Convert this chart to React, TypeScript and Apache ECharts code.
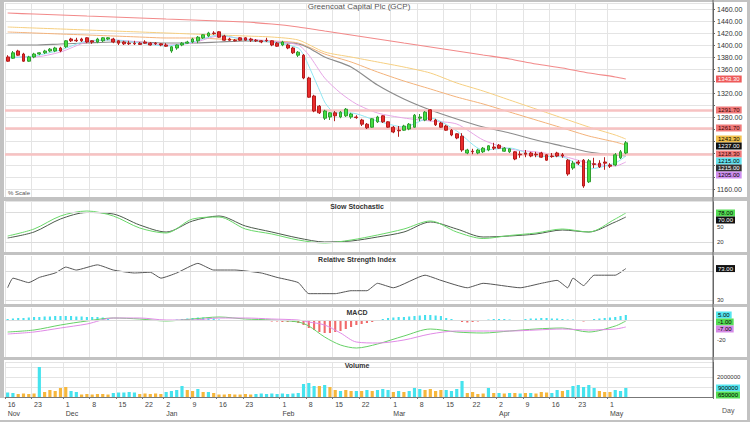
import React, { useEffect, useRef } from "react";
import * as echarts from "echarts";

const TITLE = "Greencoat Capital Plc (GCP)";
const PANEL_TITLES = ["Slow Stochastic", "Relative Strength Index", "MACD", "Volume"];
const START_DATE = "2023-11-16";
const HOLIDAYS = ["2023-12-25", "2023-12-26", "2024-01-01", "2024-03-29", "2024-04-01", "2024-05-06"];
const FUTURE_SLOTS = 16;
const MONTHS = ["Jan", "Feb", "Mar", "Apr", "May", "Jun", "Jul", "Aug", "Sep", "Oct", "Nov", "Dec"];

// [open, close, low, high]
const candles: number[][] = [
  [1380, 1373, 1372, 1383], [1378, 1387, 1377, 1390], [1390, 1383, 1382, 1392], [1385, 1373, 1372, 1387],
  [1373, 1380, 1372, 1382], [1380, 1385, 1378, 1387], [1385, 1387, 1383, 1388], [1387, 1390, 1385, 1392],
  [1390, 1393, 1388, 1395], [1390, 1395, 1388, 1397], [1395, 1390, 1388, 1397], [1397, 1407, 1395, 1408],
  [1410, 1407, 1405, 1412], [1408, 1407, 1405, 1412], [1410, 1407, 1405, 1412], [1412, 1405, 1403, 1413],
  [1407, 1405, 1402, 1408], [1405, 1410, 1403, 1412], [1407, 1412, 1405, 1413], [1410, 1412, 1408, 1413],
  [1410, 1405, 1403, 1412], [1407, 1403, 1400, 1408], [1405, 1402, 1400, 1407], [1403, 1402, 1400, 1407],
  [1403, 1402, 1400, 1407], [1403, 1401, 1400, 1405], [1405, 1403, 1402, 1408], [1403, 1400, 1399, 1405],
  [1403, 1402, 1400, 1405], [1402, 1400, 1398, 1403], [1400, 1398, 1397, 1403], [1390, 1397, 1387, 1398],
  [1395, 1400, 1392, 1401], [1400, 1403, 1398, 1405], [1403, 1405, 1402, 1407], [1405, 1410, 1403, 1412],
  [1407, 1413, 1403, 1415], [1412, 1417, 1410, 1418], [1415, 1420, 1413, 1422], [1420, 1419, 1417, 1423],
  [1422, 1413, 1412, 1423], [1415, 1408, 1407, 1417], [1410, 1408, 1407, 1412], [1408, 1407, 1406, 1410],
  [1412, 1408, 1407, 1413], [1412, 1408, 1407, 1413], [1410, 1408, 1405, 1412], [1408, 1407, 1405, 1410],
  [1407, 1405, 1403, 1408], [1408, 1407, 1405, 1412], [1407, 1400, 1398, 1408], [1403, 1398, 1397, 1405],
  [1400, 1405, 1398, 1407], [1400, 1395, 1393, 1402], [1395, 1387, 1385, 1397], [1383, 1388, 1380, 1390],
  [1383, 1345, 1343, 1385], [1345, 1313, 1312, 1347], [1315, 1290, 1288, 1317], [1298, 1287, 1285, 1300],
  [1278, 1290, 1275, 1292], [1280, 1287, 1275, 1288], [1287, 1282, 1273, 1290], [1280, 1288, 1278, 1290],
  [1282, 1293, 1280, 1295], [1280, 1285, 1277, 1287], [1280, 1279, 1277, 1283], [1275, 1268, 1265, 1277],
  [1268, 1262, 1260, 1270], [1263, 1277, 1262, 1278], [1272, 1280, 1270, 1282], [1282, 1272, 1270, 1283],
  [1272, 1263, 1262, 1273], [1263, 1255, 1253, 1265], [1258, 1257, 1247, 1265], [1258, 1265, 1257, 1267],
  [1260, 1268, 1258, 1270], [1263, 1283, 1262, 1285], [1278, 1280, 1273, 1285], [1275, 1288, 1273, 1290],
  [1292, 1275, 1273, 1293], [1275, 1267, 1265, 1277], [1270, 1263, 1262, 1272], [1265, 1258, 1257, 1267],
  [1258, 1250, 1248, 1260], [1252, 1245, 1243, 1253], [1248, 1225, 1222, 1253], [1220, 1225, 1218, 1227],
  [1223, 1222, 1218, 1227], [1220, 1225, 1218, 1227], [1222, 1228, 1220, 1230], [1225, 1232, 1223, 1233],
  [1230, 1228, 1225, 1237], [1233, 1228, 1227, 1235], [1223, 1228, 1222, 1230], [1222, 1227, 1220, 1228],
  [1222, 1210, 1208, 1223], [1218, 1217, 1212, 1223], [1220, 1218, 1213, 1225], [1220, 1215, 1213, 1222],
  [1218, 1217, 1213, 1222], [1220, 1213, 1212, 1222], [1217, 1208, 1207, 1218], [1215, 1214, 1212, 1220],
  [1220, 1215, 1213, 1222], [1217, 1215, 1212, 1220], [1208, 1185, 1182, 1210], [1195, 1203, 1192, 1207],
  [1205, 1203, 1200, 1208], [1208, 1165, 1162, 1210], [1172, 1207, 1170, 1210], [1202, 1201, 1195, 1212],
  [1203, 1197, 1195, 1208], [1205, 1203, 1192, 1213], [1200, 1198, 1195, 1203], [1200, 1217, 1198, 1220],
  [1212, 1222, 1210, 1225], [1220, 1237, 1218, 1240],
];

const volumes = [
  450000, 400000, 300000, 350000, 300000, 350000, 3000000, 500000, 700000, 600000,
  900000, 1000000, 600000, 500000, 250000, 300000, 250000, 300000, 300000, 250000,
  400000, 450000, 450000, 500000, 450000, 300000, 350000, 300000, 350000, 300000,
  500000, 600000, 700000, 1100000, 700000, 600000, 800000, 500000, 500000, 400000,
  250000, 250000, 300000, 250000, 250000, 300000, 250000, 300000, 350000, 300000,
  350000, 300000, 350000, 300000, 350000, 400000, 1300000, 1400000, 1100000, 1100000,
  1200000, 1000000, 700000, 600000, 700000, 600000, 600000, 600000, 700000, 600000,
  700000, 800000, 700000, 500000, 600000, 500000, 600000, 900000, 800000, 700000,
  800000, 600000, 700000, 700000, 600000, 800000, 1600000, 400000, 500000, 300000,
  350000, 900000, 400000, 400000, 350000, 400000, 400000, 350000, 400000, 400000,
  350000, 500000, 450000, 400000, 700000, 600000, 700000, 1100000, 1200000, 1000000,
  1200000, 900000, 600000, 500000, 500000, 700000, 600000, 900000,
];
// 1 = cyan bar, 0 = orange bar
const volumeCyan = [
  1, 1, 0, 0, 0, 0, 1, 0, 0, 0, 0, 0, 1, 1, 0, 0, 0, 0, 0, 0,
  1, 1, 1, 1, 1, 0, 0, 0, 0, 0, 1, 1, 1, 1, 0, 0, 1, 0, 1, 0,
  0, 0, 0, 0, 0, 0, 0, 1, 1, 1, 1, 1, 1, 1, 1, 1, 1, 1, 1, 0,
  1, 0, 0, 1, 0, 0, 1, 0, 1, 0, 1, 1, 1, 0, 1, 0, 1, 1, 1, 0,
  0, 0, 0, 1, 1, 1, 1, 0, 0, 0, 0, 1, 0, 1, 0, 1, 0, 1, 0, 1,
  0, 0, 0, 1, 1, 0, 1, 1, 1, 1, 1, 1, 0, 0, 0, 1, 1, 1,
];
const volumeAvg = 650000;

// moving averages, read every fifth session
const maIdx = [0, 5, 10, 15, 20, 25, 30, 35, 40, 45, 50, 55, 60, 65, 70, 75, 80, 85, 90, 95, 100, 105, 110, 115, 117];
const maRed = [1453.3, 1451.7, 1450, 1448.3, 1446.7, 1445, 1443.3, 1441.7, 1440, 1438.3, 1435, 1430, 1423.3, 1416.7, 1410, 1403.3, 1396.7, 1390, 1383.3, 1376.7, 1368.3, 1361.7, 1353.3, 1346.7, 1343.3];
const maYellow = [1430, 1428.3, 1426.7, 1425, 1423.3, 1421.7, 1420, 1418.3, 1416.7, 1415, 1413.3, 1408.3, 1388.3, 1380, 1371.7, 1363.3, 1353.3, 1336.7, 1323.3, 1308.3, 1293.3, 1278.3, 1263.3, 1250, 1243.3];
const maOrange = [1421.7, 1420, 1418.3, 1416.7, 1415, 1413.3, 1411.7, 1411.7, 1410, 1408.3, 1406.7, 1403.3, 1385, 1371.7, 1355, 1340, 1326.7, 1313.3, 1301.7, 1288.3, 1275, 1261.7, 1248.3, 1238.3, 1233.3];
const grayIdx = [0, 5, 10, 15, 20, 25, 30, 35, 40, 45, 50, 55, 57, 60, 65, 70, 75, 80, 85, 90, 95, 100, 105, 110, 115, 117];
const maGray = [1400, 1400, 1401.7, 1403.3, 1405, 1405, 1403.3, 1403.3, 1405, 1406.7, 1405, 1401.7, 1395, 1380, 1363.3, 1333.3, 1310, 1291.7, 1276.7, 1263.3, 1253.3, 1241.7, 1231.7, 1221.7, 1216.7, 1215];
const pinkIdx = [0, 5, 10, 15, 20, 25, 30, 35, 40, 45, 50, 55, 57, 60, 63, 66, 70, 75, 80, 85, 90, 95, 100, 105, 110, 115, 117];
const maPink = [1380, 1380, 1388.3, 1405, 1408.3, 1405, 1400, 1403.3, 1415, 1410, 1406.7, 1400, 1383.3, 1345, 1320, 1301.7, 1286.7, 1278.3, 1273.3, 1268.3, 1241.7, 1226.7, 1221.7, 1215, 1203.3, 1198.3, 1205];
const cyanIdx = [0, 5, 10, 15, 20, 25, 30, 35, 40, 45, 50, 55, 56, 57, 58, 59, 60, 61, 62, 65, 70, 75, 80, 85, 90, 95, 100, 105, 110, 115, 117];
const maCyan = [1378.3, 1381.7, 1391.7, 1406.7, 1408.3, 1403.3, 1398.3, 1405, 1416.7, 1408.3, 1405, 1395, 1383.3, 1365, 1345, 1325, 1305, 1293.3, 1286.7, 1286.7, 1273.3, 1263.3, 1278.3, 1256.7, 1225, 1228.3, 1215, 1213.3, 1193.3, 1203.3, 1215];
const levels = [1291.7, 1261.7, 1218.3];

// slow stochastic (read every fifth session, same indices as maIdx)
const stochK = [32, 46, 72, 82, 72, 48, 38, 66, 70, 46, 36, 24, 18, 24, 34, 46, 62, 40, 27, 33, 38, 46, 40, 66, 78];
const stochD = [28, 40, 66, 79, 76, 54, 40, 62, 72, 52, 40, 28, 20, 22, 30, 40, 60, 46, 30, 32, 36, 44, 40, 60, 70];

// RSI readings
const rsiIdx = [0, 1, 4, 6, 9, 11, 13, 17, 20, 24, 27, 29, 32, 36, 39, 43, 48, 51, 55, 57, 62, 65, 68, 70, 73, 79, 82, 87, 90, 97, 101, 104, 106, 107, 109, 111, 115, 117];
const rsiVals = [47, 60, 54, 61, 67, 75, 71, 78, 71, 67, 68, 60, 67, 80, 71, 71, 67, 61, 54, 39, 39, 43, 43, 53, 47, 64, 57, 47, 53, 47, 53, 57, 47, 60, 50, 64, 64, 73];

// MACD
const macdIdx = [0, 5, 10, 15, 20, 25, 30, 35, 40, 45, 50, 55, 57, 60, 63, 66, 70, 75, 80, 85, 90, 95, 100, 105, 110, 115, 117];
const macdLine = [-12, -10, -5, -1, 2, 1, -1, 1, 3, 1, 0, -2, -6, -17, -25, -28, -24, -16, -9, -12, -13, -11, -9, -8, -12, -6, -1];
const macdSignal = [-14, -12, -8, -4, 2, 2, 0, 0, 2, 2, 1, 0, -2, -5, -13, -22, -23, -20, -14, -11, -11, -11, -10, -9, -10, -9, -7];
const macdHist = [
  1, 1.5, 2, 2, 2.5, 3, 3, 3.5, 3.5, 4, 4, 4, 4, 3.5, 3.5, 3, 3, 3, 2.5, 2,
  -0.5, -0.5, -1, -1, -1, -1, -1, -1, -0.5, -1, -1, -0.5, 0.5, 1, 1.5, 2, 2.5, 2.5, 2, 1.5,
  0.5, -0.5, -0.5, -1, -1, -1, -1, -1, -1, -1, -1.5, -1.5, -2, -2, -2, -3, -5, -8, -10, -12,
  -13, -13, -12, -11, -9, -7, -5, -4, -3, -2, -1, 1, 2, 2.5, 3, 3, 3.5, 4, 4.5, 5,
  5, 4.5, 4, 2, 1, -1, -2, -2.5, -2, -1.5, -1, 0.5, 1, 1, 1, 0.5, -0.5, 0, 1, 1.5,
  1.5, 2, 2, 1.5, 1.5, 1, 0.5, 0.5, -0.5, -1.5, -1, 1, 1.5, 2, 2.5, 3, 4, 5,
];

function buildDates(count: number): string[] {
  const out: string[] = [];
  const d = new Date(START_DATE + "T00:00:00Z");
  while (out.length < count) {
    const wd = d.getUTCDay();
    const s = d.toISOString().slice(0, 10);
    if (wd !== 0 && wd !== 6 && HOLIDAYS.indexOf(s) < 0) out.push(s);
    d.setUTCDate(d.getUTCDate() + 1);
  }
  return out;
}

const pairs = (idx: number[], vals: number[]) => idx.map((x, k) => [x, vals[k]]);
const last = (a: number[]) => a[a.length - 1];

type Tag = { value: number; bg: string; fg: string; text: string; pos?: number };

// push overlapping value boxes apart (layout only: the displayed text keeps the true value)
function stackTags(tags: Tag[], pxPerUnit: number, gap: number): Tag[] {
  const sorted = tags.slice().sort((a, b) => b.value - a.value);
  let prev: number | null = null;
  sorted.forEach((t) => {
    let p = t.value;
    if (prev !== null && (prev - p) * pxPerUnit < gap) p = prev - gap / pxPerUnit;
    t.pos = p;
    prev = p;
  });
  return sorted;
}

export default function App() {
  const ref = useRef<HTMLDivElement>(null);

  useEffect(() => {
    if (!ref.current) return;
    const chart = echarts.init(ref.current, undefined, { renderer: "svg" });
    const nBars = candles.length;
    const dates = buildDates(nBars + FUTURE_SLOTS);

    const monthStarts: number[] = [];
    for (let i = 0; i < nBars; i++) {
      if (i === 0 || dates[i].slice(5, 7) !== dates[i - 1].slice(5, 7)) monthStarts.push(i);
    }
    const tickSet = new Set<number>();
    monthStarts.forEach((m, k) => {
      const next = k + 1 < monthStarts.length ? monthStarts[k + 1] : nBars + 2;
      for (let i = m; i < next - 2 && i < nBars; i += 5) tickSet.add(i);
    });
    const monthSet = new Set(monthStarts);
    const tickFn = (idx: number) => tickSet.has(idx);
    const labelFmt = (value: string, idx: number) => {
      if (!tickSet.has(idx)) return "";
      const day = String(parseInt(value.slice(8, 10), 10));
      if (monthSet.has(idx)) return day + "\n" + MONTHS[parseInt(value.slice(5, 7), 10) - 1];
      return day;
    };

    const gridLine = "#e4e4e4";
    const grids = [
      { left: 5, right: 37, top: 3, height: 198 },
      { left: 5, right: 37, top: 202, height: 50 },
      { left: 5, right: 37, top: 256, height: 48 },
      { left: 5, right: 37, top: 308, height: 52 },
      { left: 5, right: 37, top: 362, height: 35 },
    ];
    const ranges = [
      [1140, 1470],
      [0, 100],
      [25, 90],
      [-40, 12],
      [0, 3500000],
    ];
    const ppu = grids.map((g, i) => g.height / (ranges[i][1] - ranges[i][0]));
    const GAP = 7;

    const lastClose = candles[nBars - 1][1];
    const mainTags = stackTags([
      { value: last(maRed), bg: "#ee5a5a", fg: "#ffffff", text: last(maRed).toFixed(2) },
      ...levels.map((v) => ({ value: v, bg: "#f07a7a", fg: "#3a0000", text: v.toFixed(2) })),
      { value: last(maYellow), bg: "#f2c14e", fg: "#000000", text: last(maYellow).toFixed(2) },
      { value: lastClose, bg: "#111111", fg: "#ffffff", text: lastClose.toFixed(2) },
      { value: last(maCyan), bg: "#66e3f0", fg: "#000000", text: last(maCyan).toFixed(2) },
      { value: last(maGray), bg: "#333333", fg: "#ffffff", text: last(maGray).toFixed(2) },
      { value: last(maPink), bg: "#cf8ff0", fg: "#000000", text: last(maPink).toFixed(2) },
    ], ppu[0], GAP);
    const stochTags = stackTags([
      { value: last(stochK), bg: "#55dd55", fg: "#000000", text: last(stochK).toFixed(2) },
      { value: last(stochD), bg: "#111111", fg: "#ffffff", text: last(stochD).toFixed(2) },
    ], ppu[1], GAP);
    const rsiTags = stackTags([
      { value: last(rsiVals), bg: "#111111", fg: "#ffffff", text: last(rsiVals).toFixed(2) },
    ], ppu[2], GAP);
    const macdTags = stackTags([
      { value: last(macdHist), bg: "#55e6f0", fg: "#000000", text: last(macdHist).toFixed(2) },
      { value: last(macdLine), bg: "#55dd55", fg: "#000000", text: last(macdLine).toFixed(2) },
      { value: last(macdSignal), bg: "#d58ae6", fg: "#000000", text: last(macdSignal).toFixed(2) },
    ], ppu[3], GAP);
    const volTags = stackTags([
      { value: last(volumes), bg: "#55e6f0", fg: "#000000", text: String(last(volumes)) },
      { value: volumeAvg, bg: "#55dd55", fg: "#000000", text: String(volumeAvg) },
    ], ppu[4], GAP);
    const allTags = [mainTags, stochTags, rsiTags, macdTags, volTags];

    const tagItems = (tags: Tag[]) =>
      tags.map((t) => ({
        yAxis: t.pos,
        lineStyle: { color: "rgba(255,255,255,0)", width: 0 },
        label: {
          show: true, position: "end", distance: 3, formatter: () => t.text,
          backgroundColor: t.bg, color: t.fg, fontSize: 6, lineHeight: 7, padding: [0, 2, 0, 2],
          opacity: 1,
        },
      }));

    // axis labels hidden where a value box sits on them
    const freeLabel = (g: number, v: number) =>
      !allTags[g].some((t) => Math.abs((t.pos as number) - v) * ppu[g] < GAP);

    const xAxes = grids.map((_, g) => ({
      type: "category",
      gridIndex: g,
      data: dates,
      boundaryGap: true,
      axisLine: { show: g === 4, lineStyle: { color: "#777" } },
      axisTick: { show: g === 4, interval: tickFn, length: 2, lineStyle: { color: "#777" } },
      axisLabel: {
        show: g === 4, interval: tickFn, formatter: labelFmt, align: "left",
        fontSize: 7, lineHeight: 9, color: "#444", margin: 3,
      },
      splitLine: { show: true, interval: tickFn, lineStyle: { color: gridLine, width: 1 } },
    }));

    const baseY = {
      type: "value",
      position: "right",
      axisLine: { show: true, lineStyle: { color: "#666" } },
      axisTick: { show: false },
      splitLine: { show: false },
    };
    const onlyLabels = (g: number, keep: number[]) => (v: number) =>
      keep.indexOf(v) >= 0 && freeLabel(g, v) ? String(v) : "";
    const yAxes = [
      {
        ...baseY, gridIndex: 0, min: ranges[0][0], max: ranges[0][1], interval: 20,
        axisTick: { show: true, length: 2, lineStyle: { color: "#666" } },
        axisLabel: {
          fontSize: 7, color: "#333", margin: 4, showMinLabel: false, showMaxLabel: false,
          formatter: (v: number) => (freeLabel(0, v) ? v.toFixed(2) : ""),
        },
        splitLine: { show: true, lineStyle: { color: gridLine } },
      },
      { ...baseY, gridIndex: 1, min: 0, max: 100, interval: 10, axisLabel: { fontSize: 6, color: "#333", margin: 4, formatter: onlyLabels(1, [20, 50]) } },
      { ...baseY, gridIndex: 2, min: 25, max: 90, interval: 5, axisLabel: { fontSize: 6, color: "#333", margin: 4, formatter: onlyLabels(2, [30, 70]) } },
      { ...baseY, gridIndex: 3, min: -40, max: 12, interval: 10, axisLabel: { fontSize: 6, color: "#333", margin: 4, formatter: onlyLabels(3, [-20]) } },
      {
        ...baseY, gridIndex: 4, min: 0, max: 3500000, interval: 1000000,
        axisLabel: { fontSize: 6, color: "#333", margin: 4, formatter: onlyLabels(4, [0, 2000000]) },
        splitLine: { show: true, lineStyle: { color: gridLine } },
      },
    ];

    const guide = (value: number) => ({
      yAxis: value,
      lineStyle: { color: "#dcdcdc", width: 1, type: "solid" },
      label: { show: false },
    });
    const markBase = { symbol: ["none", "none"], silent: true, animation: false };

    const maLine = (name: string, idx: number[], vals: number[], color: string, width = 1) => ({
      name, type: "line", xAxisIndex: 0, yAxisIndex: 0, data: pairs(idx, vals),
      showSymbol: false, smooth: 0.25, lineStyle: { color, width }, z: 3, silent: true,
    });

    const titleText = (y: number, text: string, bold = true) => ({
      type: "text", z: 102, x: 357, y,
      style: { text, fontSize: 7, fontWeight: bold ? "bold" : "normal", fill: "#333", align: "center", textAlign: "center" },
    });

    const option = {
      animation: false,
      backgroundColor: "#ffffff",
      textStyle: { fontFamily: "Liberation Sans, Arial, sans-serif" },
      grid: grids,
      xAxis: xAxes,
      yAxis: yAxes,
      graphic: [
        { type: "rect", z: 100, shape: { x: 0, y: 0, width: 750, height: 2 }, style: { fill: "#c2c2c2" } },
        { type: "rect", z: 100, shape: { x: 0, y: 0, width: 4, height: 398 }, style: { fill: "#c2c2c2" } },
        { type: "rect", z: 100, shape: { x: 747, y: 0, width: 3, height: 422 }, style: { fill: "#c2c2c2" } },
        { type: "rect", z: 100, shape: { x: 0, y: 197, width: 750, height: 4 }, style: { fill: "#c2c2c2" } },
        { type: "rect", z: 100, shape: { x: 0, y: 252, width: 750, height: 3 }, style: { fill: "#c2c2c2" } },
        { type: "rect", z: 100, shape: { x: 0, y: 304, width: 750, height: 3 }, style: { fill: "#c2c2c2" } },
        { type: "rect", z: 100, shape: { x: 0, y: 357, width: 750, height: 3 }, style: { fill: "#c2c2c2" } },
        { type: "rect", z: 100, shape: { x: 0, y: 420, width: 750, height: 2 }, style: { fill: "#c2c2c2" } },
        { type: "line", z: 101, shape: { x1: 713, y1: 0, x2: 713, y2: 398 }, style: { stroke: "#666", lineWidth: 1 } },
        { type: "text", z: 102, x: 359, y: 2, style: { text: TITLE, fontSize: 8, fill: "#555", align: "center", textAlign: "center" } },
        titleText(203, PANEL_TITLES[0]),
        titleText(256, PANEL_TITLES[1]),
        titleText(309, PANEL_TITLES[2]),
        titleText(362, PANEL_TITLES[3]),
        { type: "text", z: 102, x: 8, y: 190, style: { text: "% Scale", fontSize: 6, fill: "#555" } },
        { type: "text", z: 102, x: 722, y: 407, style: { text: "Day", fontSize: 7, fill: "#555" } },
      ],
      series: [
        maLine("MA200", maIdx, maRed, "#f28a8a", 1.2),
        maLine("MA100", maIdx, maYellow, "#f6cf80", 1),
        maLine("MA50", maIdx, maOrange, "#f3b27a", 1),
        maLine("MA30", grayIdx, maGray, "#8c8c8c", 1.2),
        maLine("MA10", pinkIdx, maPink, "#e6a6e6", 1),
        maLine("MA5", cyanIdx, maCyan, "#8fe6f2", 1),
        {
          name: "Price", type: "candlestick", xAxisIndex: 0, yAxisIndex: 0, data: candles,
          barWidth: "62%", z: 5,
          itemStyle: { color: "#43e043", color0: "#ea2c2c", borderColor: "#2f9e2f", borderColor0: "#b41c1c", borderWidth: 1 },
          markLine: {
            ...markBase,
            data: [
              ...levels.map((v) => ({
                yAxis: v,
                lineStyle: { color: "#f7c2c2", width: 2.5, type: "solid" },
                label: { show: false },
              })),
              ...tagItems(mainTags),
            ],
          },
        },
        {
          name: "%D", type: "line", xAxisIndex: 1, yAxisIndex: 1, data: pairs(maIdx, stochD),
          showSymbol: false, smooth: 0.3, lineStyle: { color: "#4b5a4b", width: 1 }, z: 3,
          markLine: { ...markBase, data: [guide(20), guide(80), ...tagItems(stochTags)] },
        },
        {
          name: "%K", type: "line", xAxisIndex: 1, yAxisIndex: 1, data: pairs(maIdx, stochK),
          showSymbol: false, smooth: 0.3, lineStyle: { color: "#6ad86a", width: 1 }, z: 4,
        },
        {
          name: "RSI", type: "line", xAxisIndex: 2, yAxisIndex: 2, data: pairs(rsiIdx, rsiVals),
          showSymbol: false, smooth: 0.15, lineStyle: { color: "#555555", width: 1 }, z: 3,
          markLine: { ...markBase, data: [guide(30), guide(70), ...tagItems(rsiTags)] },
        },
        {
          name: "Histogram", type: "bar", xAxisIndex: 3, yAxisIndex: 3, barWidth: "40%",
          data: macdHist.map((v) => ({ value: v, itemStyle: { color: v >= 0 ? "#46e0ee" : "#f06a6a" } })),
          markLine: { ...markBase, data: [guide(0), ...tagItems(macdTags)] },
          z: 2,
        },
        {
          name: "MACD", type: "line", xAxisIndex: 3, yAxisIndex: 3, data: pairs(macdIdx, macdLine),
          showSymbol: false, smooth: 0.3, lineStyle: { color: "#66d066", width: 1 }, z: 3,
        },
        {
          name: "Signal", type: "line", xAxisIndex: 3, yAxisIndex: 3, data: pairs(macdIdx, macdSignal),
          showSymbol: false, smooth: 0.3, lineStyle: { color: "#e08ae6", width: 1 }, z: 3,
        },
        {
          name: "Volume", type: "bar", xAxisIndex: 4, yAxisIndex: 4, barWidth: "60%",
          data: volumes.map((v, i) => ({ value: v, itemStyle: { color: volumeCyan[i] ? "#45e3ee" : "#f6b73c" } })),
          markLine: { ...markBase, data: tagItems(volTags) },
        },
      ],
    };

    chart.setOption(option as any);
    return () => chart.dispose();
  }, []);

  return (
    <div
      ref={ref}
      style={{ position: "fixed", left: 0, top: 0, width: 750, height: 422, background: "#fff" }}
    />
  );
}
